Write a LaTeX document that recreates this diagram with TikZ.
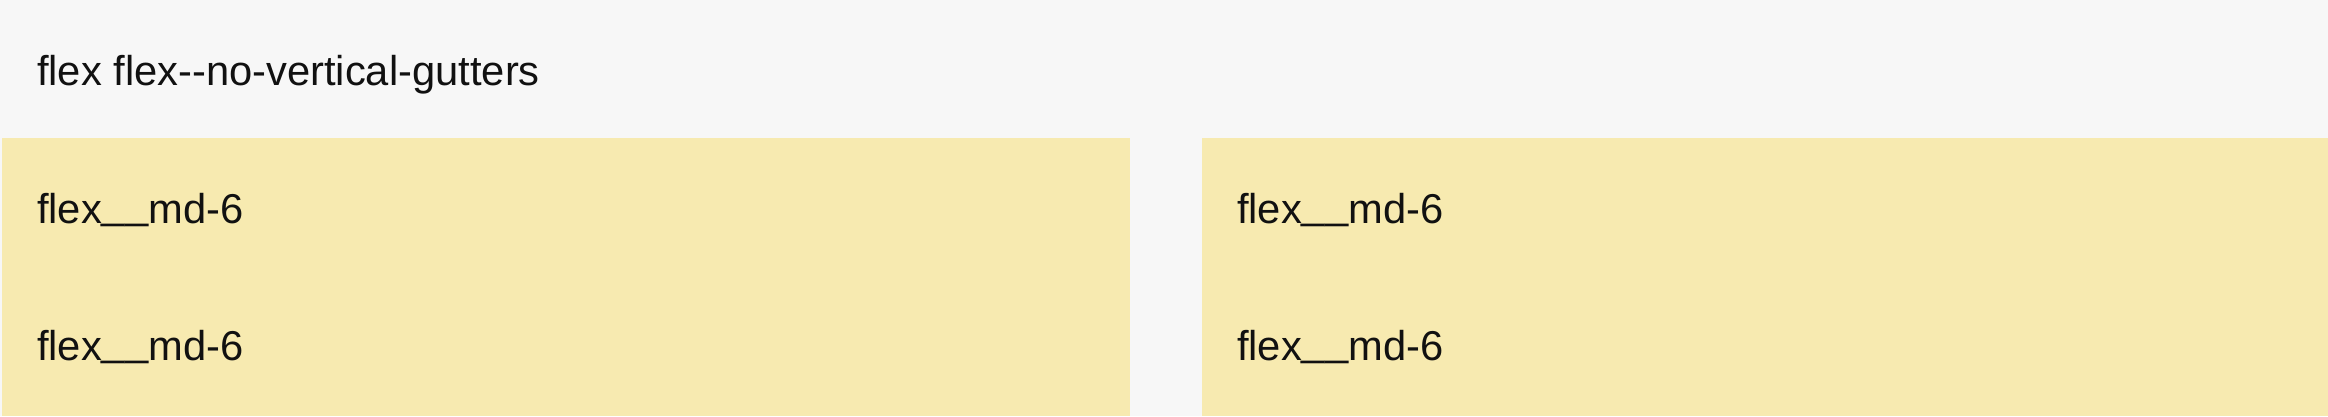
\documentclass[tikz,border=0pt]{standalone}
\usepackage{fontspec}
\setmainfont{Liberation Sans}
\definecolor{bggray}{HTML}{F7F7F7}
\definecolor{colyellow}{HTML}{F7EAB0}
\definecolor{txt}{HTML}{111111}
\newcommand{\uscore}{\raisebox{5pt}{\_}}
\tikzset{
  lbl/.style={anchor=base west, inner sep=0pt, outer sep=0pt, text=txt, font=\fontsize{41.7}{50}\selectfont},
}
\begin{document}
\begin{tikzpicture}[x=1pt,y=-1pt]
\fill[bggray] (0,0) rectangle (2328,416);
\useasboundingbox (0,0) rectangle (2328,416);
\fill[colyellow] (2,138) rectangle (1130,416) coordinate (lbr);
\fill[colyellow] (1202,138) rectangle (2328,416) coordinate (rbr);
\node[lbl] (header) at (37,85) {flex flex-\kern0pt-no-vertical-gutters};
\node[lbl] (l1) at (37,223) {flex\uscore\uscore md-6};
\node[lbl] (l2) at (37,360) {flex\uscore\uscore md-6};
\node[lbl] (r1) at (1237,223) {flex\uscore\uscore md-6};
\node[lbl] (r2) at (1237,360) {flex\uscore\uscore md-6};
\end{tikzpicture}
\end{document}
